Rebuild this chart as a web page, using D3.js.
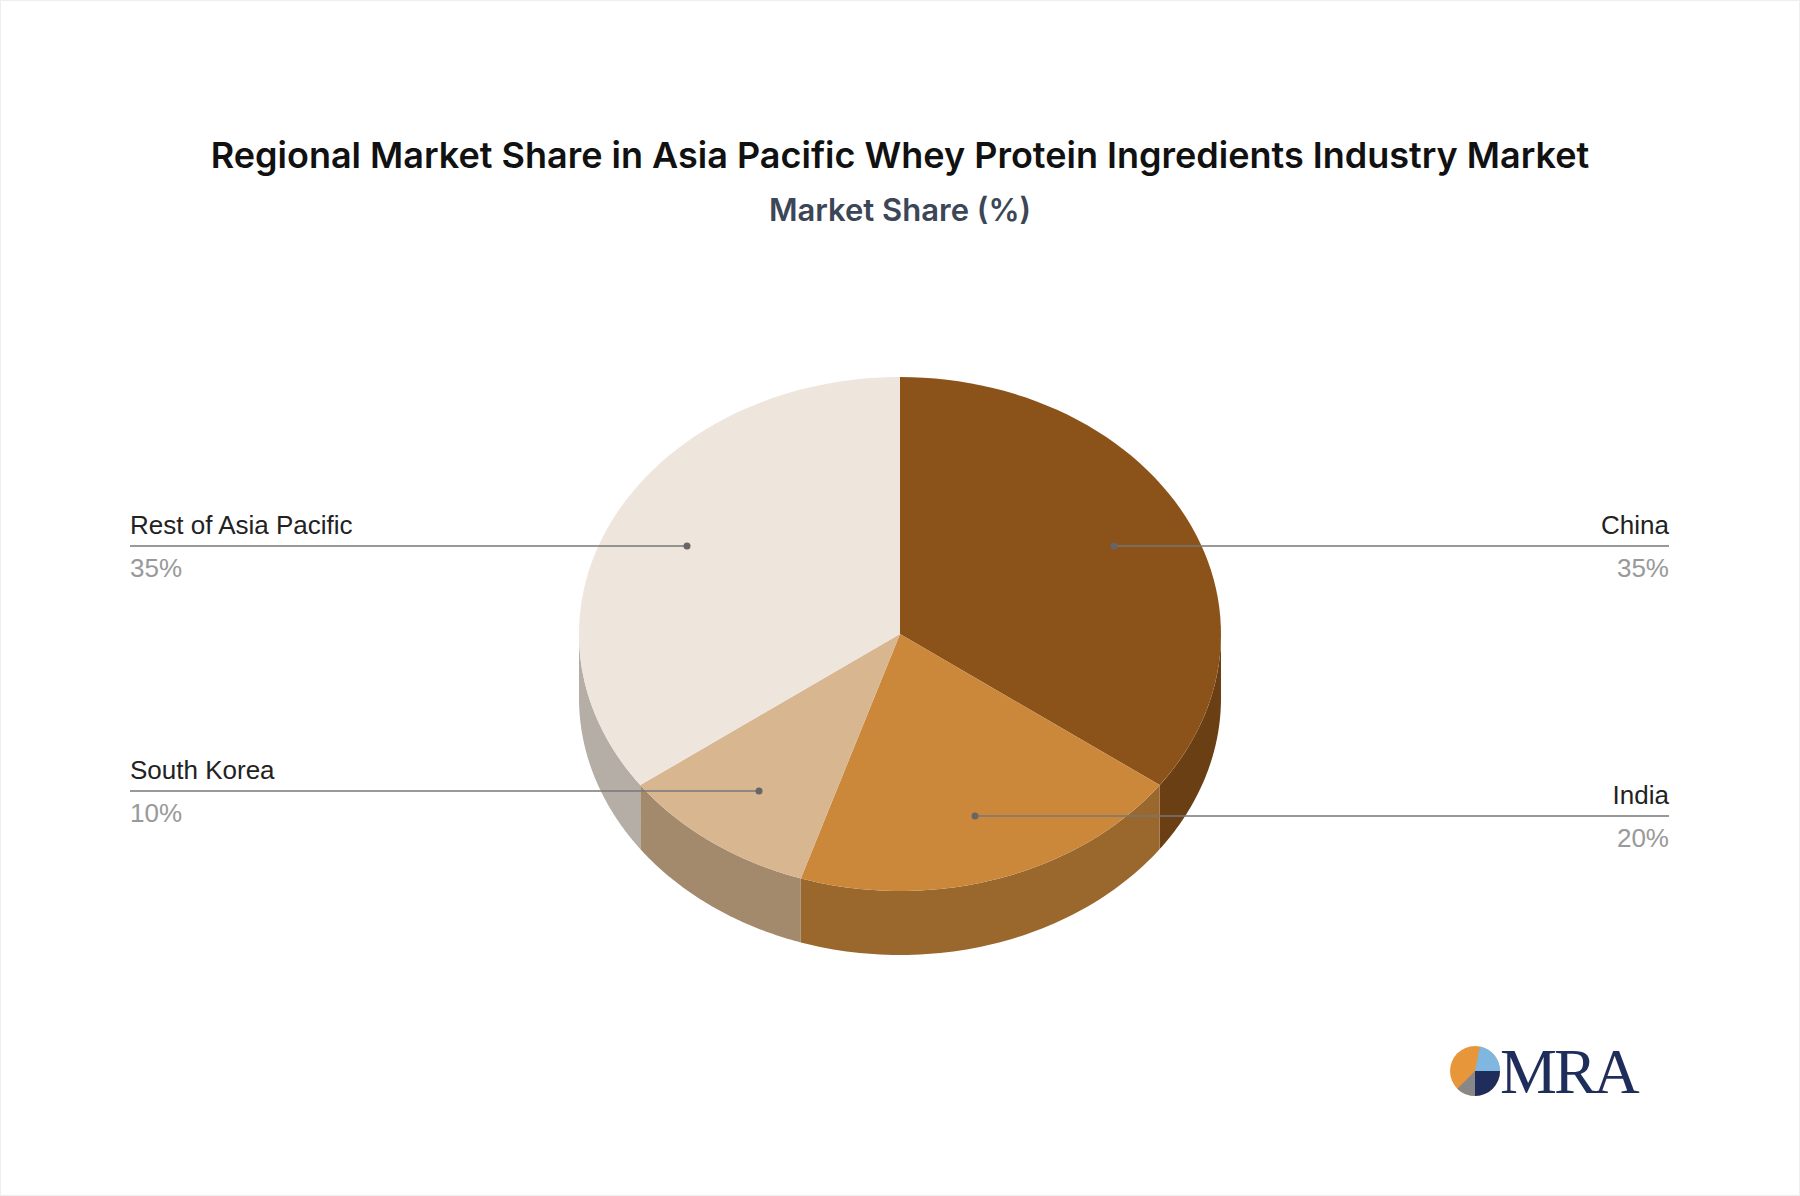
<!DOCTYPE html>
<html><head><meta charset="utf-8">
<script src="https://cdn.jsdelivr.net/npm/d3@7"></script>
<style>body{margin:0;background:#fff;font-family:Inter,Roboto,sans-serif}</style>
</head><body><div id="chart"></div>
<script>
const W = 1800, H = 1196;
const categories = ["China", "India", "South Korea", "Rest of Asia Pacific"];
const shares = [35, 20, 10, 35];
const topColors = ["#8B5319", "#CB883A", "#D8B690", "#EEE5DC"];
const sideColors = ["#6B3F14", "#9A672D", "#A38A6D", "#B5AEA7"];

const cx = 900, cy = 634, rx = 321, ry = 257, depth = 64;

const svg = d3.select("#chart").append("svg").attr("width", W).attr("height", H);
svg.append("rect").attr("x", 0.5).attr("y", 0.5).attr("width", W - 1).attr("height", H - 1)
  .attr("fill", "#fff").attr("stroke", "#eee");

svg.append("text").attr("x", W / 2).attr("y", 168).attr("text-anchor", "middle")
  .attr("font-size", 36).attr("font-weight", 600).attr("fill", "#111")
  .text("Regional Market Share in Asia Pacific Whey Protein Ingredients Industry Market");
svg.append("text").attr("x", W / 2).attr("y", 221).attr("text-anchor", "middle")
  .attr("font-size", 31).attr("font-weight", 600).attr("fill", "#3b4656")
  .text("Market Share (%)");

const pie = d3.pie().sort(null).value(d => d)(shares);
const pt = (a, dy = 0) => [cx + rx * Math.sin(a), cy - ry * Math.cos(a) + dy];
const arcPts = (a0, a1, dy) => {
  const n = 60, p = [];
  for (let i = 0; i <= n; i++) p.push(pt(a0 + (a1 - a0) * i / n, dy));
  return p;
};

// side walls (front half only: angles PI/2 .. 3PI/2)
pie.forEach((s, i) => {
  const a0 = Math.max(s.startAngle, Math.PI / 2), a1 = Math.min(s.endAngle, 3 * Math.PI / 2);
  if (a1 <= a0) return;
  const p = arcPts(a0, a1, 0).concat(arcPts(a1, a0, depth));
  svg.append("path").attr("d", d3.line()(p) + "Z").attr("fill", sideColors[i]);
});

// top faces
pie.forEach((s, i) => {
  const p = [[cx, cy]].concat(arcPts(s.startAngle, s.endAngle, 0));
  svg.append("path").attr("d", d3.line()(p) + "Z").attr("fill", topColors[i]);
});

// labels
const labels = [
  {i: 0, side: "right", y: 546, dot: 1114},
  {i: 1, side: "right", y: 816, dot: 975},
  {i: 2, side: "left", y: 791, dot: 759},
  {i: 3, side: "left", y: 546, dot: 687}
];
labels.forEach(l => {
  const xEdge = l.side === "left" ? 130 : 1669;
  const anchor = l.side === "left" ? "start" : "end";
  svg.append("line").attr("x1", xEdge).attr("x2", l.dot).attr("y1", l.y).attr("y2", l.y)
    .attr("stroke", "#777").attr("stroke-width", 1.5);
  svg.append("circle").attr("cx", l.dot).attr("cy", l.y).attr("r", 3.5).attr("fill", "#666");
  svg.append("text").attr("x", xEdge).attr("y", l.y - 12).attr("text-anchor", anchor)
    .attr("font-size", 26).attr("fill", "#222").attr("font-family", "Liberation Sans, Arial, sans-serif")
    .text(categories[l.i]);
  svg.append("text").attr("x", xEdge).attr("y", l.y + 31).attr("text-anchor", anchor)
    .attr("font-size", 26).attr("fill", "#999").attr("font-family", "Liberation Sans, Arial, sans-serif")
    .text(shares[l.i] + "%");
});

// logo
const lg = svg.append("g").attr("transform", "translate(1475,1071)");
lg.append("circle").attr("r", 25).attr("fill", "#E8963A");
lg.append("path").attr("d", d3.arc().innerRadius(0).outerRadius(25).startAngle(0.2).endAngle(Math.PI / 2)()).attr("fill", "#7FB7E0");
lg.append("path").attr("d", d3.arc().innerRadius(0).outerRadius(25).startAngle(Math.PI / 2).endAngle(Math.PI)()).attr("fill", "#1F2D5A");
lg.append("path").attr("d", d3.arc().innerRadius(0).outerRadius(25).startAngle(Math.PI).endAngle(Math.PI * 1.25)()).attr("fill", "#888");
svg.append("text").attr("x", 1500).attr("y", 1093).attr("font-family", "Liberation Serif, serif")
  .attr("font-size", 64).attr("fill", "#1F2D5A").attr("letter-spacing", -3).text("MRA");
</script></body></html>
